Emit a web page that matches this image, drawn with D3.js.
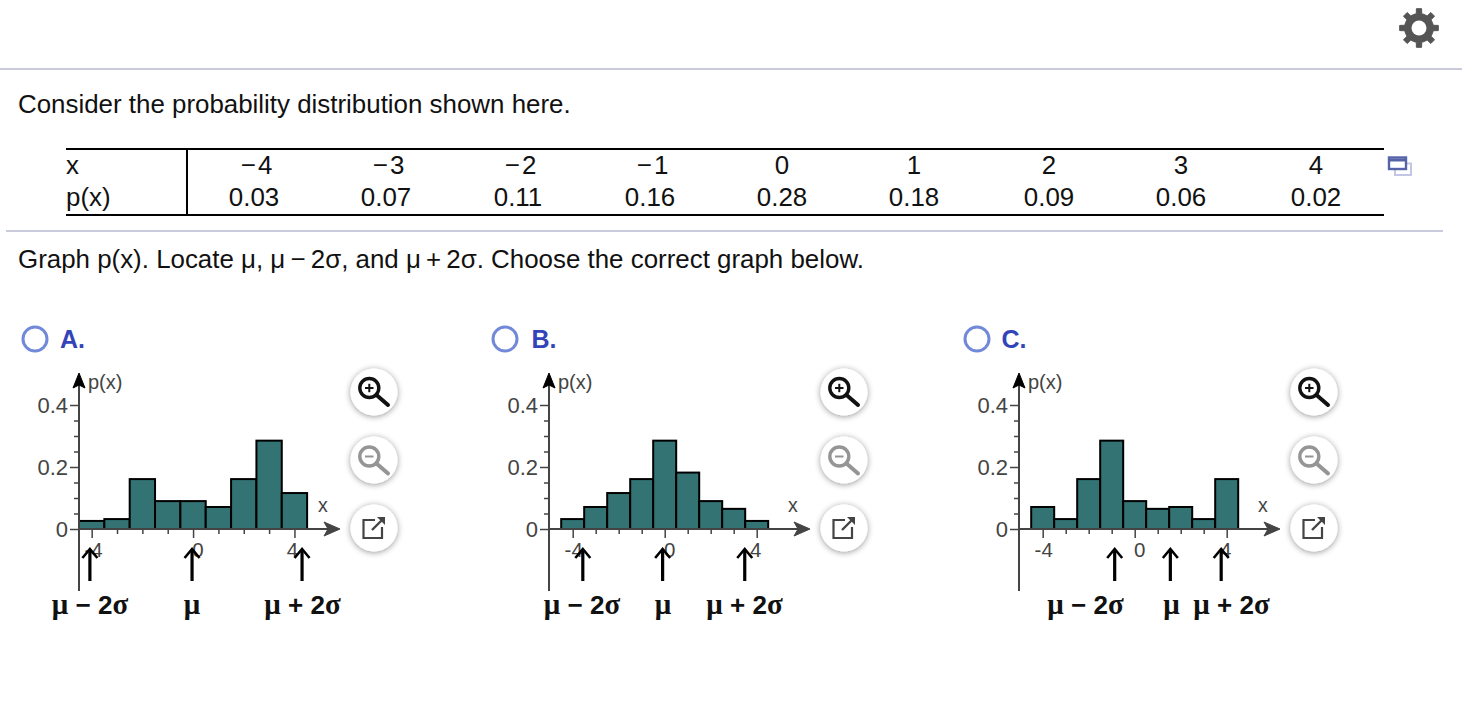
<!DOCTYPE html>
<html><head><meta charset="utf-8">
<script src="https://cdnjs.cloudflare.com/ajax/libs/d3/7.8.5/d3.min.js"></script>
<style>html,body{margin:0;padding:0;background:#fff;overflow:hidden}svg{display:block}text{font-family:"Liberation Sans",Arial,sans-serif}</style>
</head><body><svg id="c" width="1462" height="720"></svg>
<script>
// ---- data ----
const tableX = ["\u2212\u200a4","\u2212\u200a3","\u2212\u200a2","\u2212\u200a1","0","1","2","3","4"];
const tableP = ["0.03","0.07","0.11","0.16","0.28","0.18","0.09","0.06","0.02"];
const categories = [-4,-3,-2,-1,0,1,2,3,4];
const barsA = [0.026,0.032,0.161,0.09,0.09,0.071,0.161,0.285,0.116];
const barsB = [0.032,0.071,0.116,0.161,0.285,0.182,0.09,0.065,0.026];
const barsC = [0.071,0.032,0.161,0.285,0.09,0.065,0.071,0.032,0.161];
const markersA = [-4.07,-0.04,4.3];
const markersB = [-3.56,-0.09,3.48];
const markersC = [-0.87,1.55,3.76];
const markerNames = ["\u03bc \u2212 2\u03c3","\u03bc","\u03bc + 2\u03c3"];
const yMajor = [0,0.2,0.4];
const yMinor = [0.05,0.1,0.15,0.25,0.3,0.35];
const xMajor = [-4,0,4];
const xMinor = [-3,-2,-1,1,2,3];
const optionLetters = ["A.","B.","C."];
const introText = "Consider the probability distribution shown here.";
const askText = "Graph p(x). Locate \u03bc, \u03bc\u2009\u2212\u2009 2\u03c3, and \u03bc\u2009+\u2009 2\u03c3. Choose the correct graph below.".replace(/\u2009 /g,"\u2009");

// ---- layout ----
const svg = d3.select("#c");
const defs = svg.append("defs");
const shadow = defs.append("filter").attr("id","sh").attr("x","-50%").attr("y","-50%").attr("width","200%").attr("height","200%");
shadow.append("feDropShadow").attr("dx",0).attr("dy",1).attr("stdDeviation",3.2).attr("flood-color","#000").attr("flood-opacity",0.42);

const rule = (x1,x2,y1,y2,c,w)=>svg.append("line").attr("x1",x1).attr("x2",x2).attr("y1",y1).attr("y2",y2).attr("stroke",c).attr("stroke-width",w);
rule(0,1462,69,69,"#c9cbdc",2);
rule(6,1443,231,231,"#c9cbdc",2);
rule(66,1384,149,149,"#000",2);
rule(66,1384,215,215,"#000",2);
rule(187,187,149,215,"#000",2);

const body = (t,x,y,a,s)=>svg.append("text").attr("x",x).attr("y",y).attr("font-size",s||25.9).attr("fill","#111").attr("text-anchor",a||"start").text(t);
body(introText,18,113);
body(askText,18,268);
body("x",66,174);
body("p(x)",66,206);
const colX = [254,386,518,650,782,914,1049,1181,1316];
tableX.forEach((t,i)=>body(t,colX[i]+(i<4?2.5:0),174,"middle"));
tableP.forEach((t,i)=>body(t,colX[i],206,"middle"));

// gear
(function(){
  const g = svg.append("g").attr("transform","translate(1419,28)");
  const pts = [], n = 8, ro = 19.5, ri = 14.5;
  for(let i=0;i<n;i++){
    const a = i/n*2*Math.PI - Math.PI/2, s = 2*Math.PI/n;
    [[-.5,ri],[-.24,ri],[-.17,ro],[.17,ro],[.24,ri],[.5,ri]].forEach(([f,r])=>{
      pts.push([r*Math.cos(a+f*s),r*Math.sin(a+f*s)]);
    });
  }
  g.append("path").attr("d",d3.line().curve(d3.curveLinearClosed)(pts)).attr("fill","#555").attr("stroke","#555").attr("stroke-linejoin","round");
  g.append("circle").attr("r",7.5).attr("fill","#fff");
})();
// copy-window icon
svg.append("rect").attr("x",1395).attr("y",163.5).attr("width",16).attr("height",11.5).attr("fill","#fff").attr("stroke","#c3c7e4").attr("stroke-width",2);
svg.append("rect").attr("x",1389).attr("y",157.5).attr("width",17).attr("height",11.5).attr("fill","#fff").attr("stroke","#5563a8").attr("stroke-width",2.4);
svg.append("line").attr("x1",1389).attr("x2",1406).attr("y1",160).attr("y2",160).attr("stroke","#5563a8").attr("stroke-width",3);

const panels = [
  {ox:0,  bars:barsA,marks:markersA,dom:[-4.5,5.6],rng:[79,335],lab:[90,192,302.5],radio:35,letter:60,btn:374,xlabs:[2,5,-2]},
  {ox:470,bars:barsB,marks:markersB,dom:[-5.03,6.1],rng:[549,805],lab:[582,663,744.5],radio:505,letter:531.5,btn:844,xlabs:[1,5,-1]},
  {ox:940,bars:barsC,marks:markersC,dom:[-5.03,6.1],rng:[1019,1275],lab:[1085.5,1171.5,1231.5],radio:977,letter:1001.5,btn:1314,xlabs:[1,5,-1]}
];
const y = d3.scaleLinear().domain([0,0.4]).range([529,405]);
const axisColor = "#444";

panels.forEach((p,pi)=>{
  const x = d3.scaleLinear().domain(p.dom).range(p.rng);
  const g = svg.append("g");
  const x0 = p.rng[0];

  // radio + letter
  g.append("circle").attr("cx",p.radio).attr("cy",339).attr("r",12).attr("fill","#fff").attr("stroke","#7288d8").attr("stroke-width",3);
  g.append("text").attr("x",p.letter).attr("y",348).attr("font-size",25).attr("font-weight","bold").attr("fill","#3344b8").text(optionLetters[pi]);

  // bars
  g.selectAll("rect.bar").data(categories).join("rect").attr("class","bar")
    .attr("x",d=>x(d-.5)).attr("width",d=>x(d+.5)-x(d-.5))
    .attr("y",(d,i)=>y(p.bars[i])).attr("height",(d,i)=>y(0)-y(p.bars[i]))
    .attr("fill","#337373").attr("stroke","#000").attr("stroke-width",2);

  // y axis ticks
  const yMaj = g.append("g").attr("transform",`translate(${x0},0)`).call(d3.axisLeft(y).tickValues(yMajor).tickSize(9).tickFormat(d=>d===0?"0":d3.format(".1f")(d)));
  const yMin = g.append("g").attr("transform",`translate(${x0},0)`).call(d3.axisLeft(y).tickValues(yMinor).tickSize(5).tickFormat(""));
  // x axis ticks
  const xMaj = g.append("g").attr("transform",`translate(0,${y(0)})`).call(d3.axisBottom(x).tickValues(xMajor).tickSize(9).tickFormat(""));
  const xMin = g.append("g").attr("transform",`translate(0,${y(0)})`).call(d3.axisBottom(x).tickValues(xMinor).tickSize(5).tickFormat(""));
  [yMaj,yMin,xMaj,xMin].forEach(a=>{a.select(".domain").remove();a.selectAll("line").attr("stroke",axisColor).attr("stroke-width",1.5);});
  yMaj.selectAll("text").attr("font-size",22).attr("fill",axisColor).attr("font-family","Liberation Sans").attr("dy","0.35em").attr("x",-11);
  xMajLabels(g,x,p);

  // axis lines
  g.append("line").attr("x1",x0).attr("x2",x0).attr("y1",384).attr("y2",591).attr("stroke",axisColor).attr("stroke-width",2);
  g.append("line").attr("x1",x0).attr("x2",p.rng[1]).attr("y1",y(0)).attr("y2",y(0)).attr("stroke",axisColor).attr("stroke-width",2);
  g.append("path").attr("d",`M${x0},373 L${x0+6},388 L${x0},385 L${x0-6},388 Z`).attr("fill","#000").attr("stroke","#000");
  const ax = p.rng[0]+261;
  g.append("path").attr("d",`M${ax},${y(0)} L${ax-16},${y(0)-7} L${ax-12},${y(0)} L${ax-16},${y(0)+7} Z`).attr("fill",axisColor).attr("stroke",axisColor);
  g.append("text").attr("x",x0+9).attr("y",388.5).attr("font-size",20).attr("fill",axisColor).text("p(x)");
  g.append("text").attr("x",x0+239).attr("y",512).attr("font-size",19.5).attr("fill",axisColor).text("x");

  // marker arrows
  p.marks.forEach((m,i)=>{
    const mx = x(m);
    g.append("line").attr("x1",mx).attr("x2",mx).attr("y1",581).attr("y2",551).attr("stroke","#000").attr("stroke-width",3.2);
    g.append("path").attr("d",`M${mx-7.5},558 L${mx},549 L${mx+7.5},558`).attr("fill","none").attr("stroke","#000").attr("stroke-width",2.6);
    const t = g.append("text").attr("x",p.lab[i]).attr("y",614).attr("text-anchor","middle").attr("font-size",26).attr("font-weight","bold").attr("fill","#111");
    markerNames[i].split(/([\u03bc\u03c3])/).filter(s=>s).forEach(s=>{
      t.append("tspan").style("font-family",/[\u03bc\u03c3]/.test(s)?"Liberation Serif":"Liberation Sans").attr("font-size",/[\u03bc\u03c3]/.test(s)?29:26).text(s);
    });
  });

  // zoom/share buttons
  const b = g.append("g").attr("transform",`translate(${p.btn},0)`);
  [392,460,528].forEach(cy=>b.append("circle").attr("cy",cy).attr("r",23.5).attr("fill","#fff").attr("filter","url(#sh)"));
  const lens = (cy,c,sign)=>{
    b.append("circle").attr("cx",-4.7).attr("cy",cy).attr("r",9.5).attr("fill","none").attr("stroke",c).attr("stroke-width",3.4);
    b.append("line").attr("x1",2.5).attr("y1",cy+7).attr("x2",14).attr("y2",cy+17).attr("stroke",c).attr("stroke-width",4).attr("stroke-linecap","round");
    b.append("line").attr("x1",-9).attr("x2",-.5).attr("y1",cy).attr("y2",cy).attr("stroke",c).attr("stroke-width",2);
    if(sign) b.append("line").attr("x1",-4.7).attr("x2",-4.7).attr("y1",cy-4.2).attr("y2",cy+4.2).attr("stroke",c).attr("stroke-width",2);
  };
  lens(388,"#111",true);
  lens(456.5,"#959595",false);
  b.append("path").attr("d","M1,520 H-10.5 V538 H8 V527").attr("fill","none").attr("stroke",axisColor).attr("stroke-width",2.2);
  b.append("path").attr("d","M-2,530 L10,518").attr("stroke",axisColor).attr("stroke-width",2.4);
  b.append("path").attr("d","M3,517 H11 V525 Z").attr("fill",axisColor);
});

function xMajLabels(g,x,p){
  xMajor.forEach((v,i)=>{
    g.append("text").attr("x",x(v)+p.xlabs[i]).attr("y",557).attr("text-anchor","middle").attr("font-size",20.5).attr("fill",axisColor).text(v);
  });
}
</script></body></html>
